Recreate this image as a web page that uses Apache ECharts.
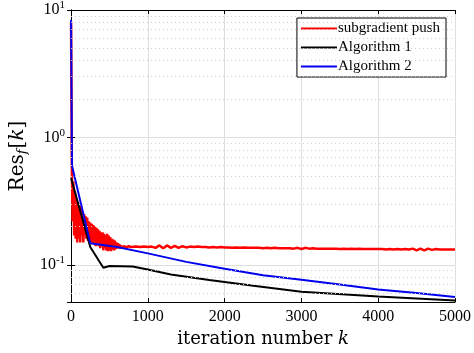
<!DOCTYPE html>
<html>
<head>
<meta charset="utf-8">
<script src="https://cdn.jsdelivr.net/npm/echarts@6/dist/echarts.min.js"></script>
<style>
  html, body { margin: 0; padding: 0; background: #fff; }
  #chart { width: 474px; height: 353px; }
</style>
</head>
<body>
<div id="chart"></div>
<script>
  // subgradient push, k = 0..800 step 10 (noisy band)
  var redEarly = [
    8.0, 0.6, 0.22, 0.45, 0.17, 0.38, 0.16, 0.33, 0.15, 0.31,
    0.16, 0.28, 0.15, 0.29, 0.17, 0.26, 0.15, 0.25, 0.17, 0.24,
    0.16, 0.235, 0.155, 0.22, 0.16, 0.215, 0.15, 0.21, 0.145, 0.205,
    0.15, 0.2, 0.14, 0.195, 0.145, 0.19, 0.14, 0.185, 0.135, 0.18,
    0.14, 0.18, 0.13, 0.175, 0.135, 0.17, 0.13, 0.175, 0.128, 0.17,
    0.13, 0.165, 0.128, 0.16, 0.132, 0.158, 0.13, 0.155, 0.133, 0.15,
    0.134, 0.148, 0.135, 0.145, 0.134, 0.142, 0.136, 0.141, 0.136, 0.14,
    0.137, 0.14, 0.137, 0.14, 0.138, 0.14, 0.137, 0.14, 0.138, 0.14,
    0.138
  ]
  // subgradient push, k = 850..5000 step 50
  var redLate = [
    0.139, 0.138, 0.139, 0.138, 0.139, 0.136, 0.142, 0.135, 0.142, 0.136,
    0.141, 0.136, 0.14, 0.137, 0.139, 0.138, 0.139, 0.138, 0.138, 0.137,
    0.138, 0.137, 0.138, 0.137, 0.137, 0.136, 0.137, 0.136, 0.137, 0.136,
    0.136, 0.136, 0.136, 0.135, 0.136, 0.135, 0.136, 0.135, 0.135, 0.135,
    0.135, 0.134, 0.136, 0.133, 0.136, 0.134, 0.135, 0.134, 0.134, 0.134,
    0.134, 0.134, 0.134, 0.133, 0.134, 0.133, 0.134, 0.133, 0.134, 0.133,
    0.133, 0.133, 0.133, 0.133, 0.133, 0.132, 0.133, 0.132, 0.133, 0.132,
    0.133, 0.132, 0.134, 0.13, 0.134, 0.13, 0.134, 0.131, 0.133, 0.132,
    0.132, 0.132, 0.132, 0.132
  ]
  var alg1 = [
    [0, 0.48], [250, 0.138], [420, 0.095], [500, 0.098], [800, 0.097],
    [1000, 0.092], [1300, 0.084], [1800, 0.076], [2375, 0.0685],
    [3000, 0.0615], [4000, 0.0564], [5000, 0.0526]
  ]
  var alg2 = [
    [0, 8.4], [12, 0.6], [250, 0.148], [600, 0.138], [1000, 0.123],
    [1500, 0.1055], [2000, 0.093], [2500, 0.083], [3000, 0.0765],
    [3500, 0.07], [4000, 0.064], [4500, 0.06], [5000, 0.056]
  ]
  var minorLines = [0.06, 0.07, 0.08, 0.09, 0.2, 0.3, 0.4, 0.5, 0.6, 0.7, 0.8, 0.9,
    2, 3, 4, 5, 6, 7, 8, 9]
  var names = ['subgradient push', 'Algorithm 1', 'Algorithm 2']

  var serif = 'Liberation Serif'
  var wide = 'DejaVu Serif'
  var redData = []
  for (var i = 0; i < redEarly.length; i++) redData.push([i * 10, redEarly[i]])
  for (var j = 0; j < redLate.length; j++) redData.push([850 + j * 50, redLate[j]])

  var chart = echarts.init(document.getElementById('chart'))
  var yMin = 0.051, yMax = 10

  var option = {
    animation: false,
    grid: { left: 64, right: 19, top: 10, bottom: 48 },
    legend: {
      data: names.map(function (n) { return { name: n, icon: 'rect' } }),
      orient: 'vertical',
      right: 28,
      top: 18,
      backgroundColor: '#fff',
      borderColor: '#000',
      borderWidth: 1,
      borderRadius: 0,
      padding: [2, 6, 2, 4],
      itemGap: 2,
      itemWidth: 36,
      itemHeight: 2,
      textStyle: { fontFamily: serif, fontSize: 15, color: '#000', padding: [0, 0, 0, -4], lineHeight: 17 }
    },
    xAxis: [{
      type: 'value',
      min: 0, max: 5000, interval: 1000,
      name: '{n|iteration number }{i|k}',
      nameLocation: 'middle',
      nameGap: 23,
      nameTextStyle: {
        rich: {
          n: { fontFamily: wide, fontSize: 18, color: '#000' },
          i: { fontFamily: wide, fontSize: 18, fontStyle: 'italic', color: '#000' }
        }
      },
      axisLine: { lineStyle: { color: '#000', width: 1 } },
      axisTick: { inside: true, length: 4, lineStyle: { color: '#000' } },
      axisLabel: {
        fontFamily: serif, fontSize: 16, color: '#000', margin: 7,
        formatter: function (v) { return String(v) }
      },
      splitLine: { show: true, lineStyle: { color: '#dedede', width: 1 } }
    }, {
      type: 'value', position: 'top',
      min: 0, max: 5000, interval: 1000,
      axisLine: { lineStyle: { color: '#000' } },
      axisTick: { inside: true, length: 4, lineStyle: { color: '#000' } },
      axisLabel: { show: false },
      splitLine: { show: false }
    }],
    yAxis: [{
      type: 'log', logBase: 10,
      min: yMin, max: yMax,
      name: '{r|Res}{s|f}{r|[}{i|k}{r|]}',
      nameLocation: 'middle',
      nameRotate: 90,
      nameGap: 30,
      nameTextStyle: {
        rich: {
          r: { fontFamily: wide, fontSize: 20, color: '#000' },
          i: { fontFamily: wide, fontSize: 20, fontStyle: 'italic', color: '#000' },
          s: { fontFamily: wide, fontSize: 13, fontStyle: 'italic', color: '#000', padding: [9, 1, 0, 0] }
        }
      },
      axisLine: { show: true, lineStyle: { color: '#000', width: 1 } },
      axisTick: { inside: true, length: 4, lineStyle: { color: '#000' } },
      axisLabel: {
        showMinLabel: false,
        margin: 6,
        formatter: function (v) {
          var e = Math.round(Math.log10(v))
          return '{b|10}{e|' + e + '}'
        },
        rich: {
          b: { fontFamily: serif, fontSize: 16, color: '#000' },
          e: { fontFamily: serif, fontSize: 11, color: '#000', padding: [0, 0, 9, 0] }
        }
      },
      splitLine: { show: true, lineStyle: { color: '#dedede', width: 1 } }
    }, {
      type: 'log', logBase: 10, position: 'right',
      min: yMin, max: yMax,
      axisLine: { show: true, lineStyle: { color: '#000' } },
      axisTick: { inside: true, length: 4, lineStyle: { color: '#000' } },
      axisLabel: { show: false },
      splitLine: { show: false }
    }],
    series: [{
      type: 'line',
      name: 'minor',
      data: [],
      silent: true,
      markLine: {
        silent: true,
        symbol: 'none',
        label: { show: false },
        lineStyle: { color: '#cfcfcf', type: [1, 3], width: 1 },
        data: minorLines.map(function (v) { return { yAxis: v } })
      }
    }, {
      type: 'line', name: names[0], data: redData,
      showSymbol: false, symbol: 'none',
      lineStyle: { color: '#ff0000', width: 2.5 },
      itemStyle: { color: '#ff0000' }
    }, {
      type: 'line', name: names[1], data: alg1,
      showSymbol: false, symbol: 'none',
      lineStyle: { color: '#000000', width: 2 },
      itemStyle: { color: '#000000' }
    }, {
      type: 'line', name: names[2], data: alg2,
      showSymbol: false, symbol: 'none',
      lineStyle: { color: '#0000ee', width: 2 },
      itemStyle: { color: '#0000ee' }
    }]
  }
  chart.setOption(option)
</script>
</body>
</html>
